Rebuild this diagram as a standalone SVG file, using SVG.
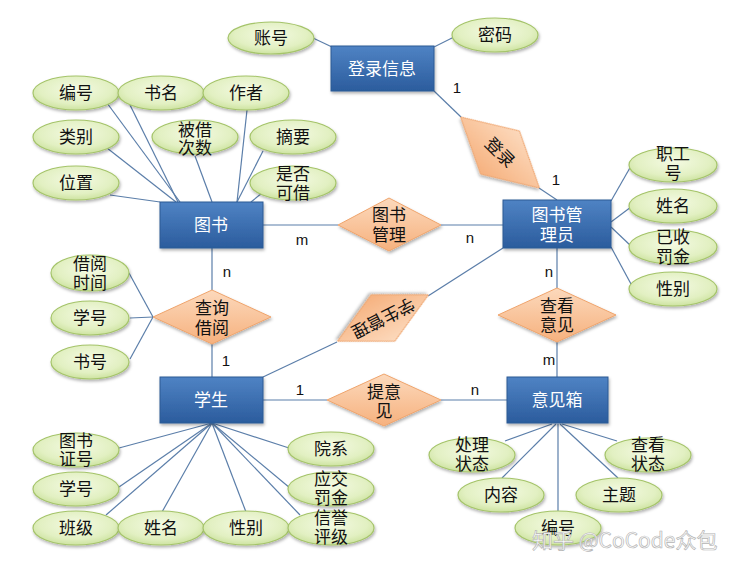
<svg xmlns="http://www.w3.org/2000/svg" width="750" height="570" viewBox="0 0 750 570">
<defs>
<linearGradient id="gBlue" x1="0" y1="0" x2="0" y2="1">
<stop offset="0" stop-color="#4f83c4"/>
<stop offset="1" stop-color="#2b5c9d"/>
</linearGradient>
<linearGradient id="gPeach" x1="0" y1="0" x2="0" y2="1">
<stop offset="0" stop-color="#fcd9bc"/>
<stop offset="1" stop-color="#f6b17e"/>
</linearGradient>
<radialGradient id="gGreen" cx="0.5" cy="0.4" r="0.6">
<stop offset="0" stop-color="#f4fae3"/>
<stop offset="0.7" stop-color="#e2f0c2"/>
<stop offset="1" stop-color="#cde3a0"/>
</radialGradient>
<filter id="sh" x="-20%" y="-20%" width="140%" height="150%">
<feDropShadow dx="1" dy="2" stdDeviation="1.5" flood-color="#000" flood-opacity="0.3"/>
</filter>
</defs>
<style>
.ent{fill:url(#gBlue);stroke:#2d5a94;stroke-width:1;filter:url(#sh)}
.rel{fill:url(#gPeach);stroke:#efa46c;stroke-width:1;filter:url(#sh)}
.att{fill:url(#gGreen);stroke:#a5c46a;stroke-width:1.2;filter:url(#sh)}
.et{font-family:"Noto Sans CJK SC",sans-serif;font-size:17px;fill:#fff;text-anchor:middle}
.t{font-family:"Noto Sans CJK SC",sans-serif;font-size:17px;fill:#111;text-anchor:middle}
.c{stroke:#5b7ea9;stroke-width:1.2;fill:none}
.lbl{font-family:"Liberation Sans",Arial,sans-serif;font-size:15px;fill:#111;text-anchor:middle}
.wm{font-family:"Noto Sans CJK SC",sans-serif;font-size:21px;fill:#fff;stroke:#b4b4b4;stroke-width:0.7}
</style>

<g id="connectors">
<line class="c" x1="313" y1="38" x2="332" y2="47"/>
<line class="c" x1="454" y1="37" x2="434" y2="47"/>
<line class="c" x1="434" y1="91" x2="461" y2="117"/>
<line class="c" x1="539" y1="188" x2="557" y2="200"/>
<line class="c" x1="263" y1="225" x2="338" y2="225"/>
<line class="c" x1="441" y1="225" x2="503" y2="225"/>
<line class="c" x1="212" y1="248" x2="212" y2="290"/>
<line class="c" x1="212" y1="344" x2="212" y2="377"/>
<line class="c" x1="129" y1="273" x2="153" y2="317"/>
<line class="c" x1="130" y1="318" x2="153" y2="317"/>
<line class="c" x1="130" y1="359" x2="153" y2="317"/>
<line class="c" x1="263" y1="377" x2="337" y2="342"/>
<line class="c" x1="428" y1="296" x2="503" y2="248"/>
<line class="c" x1="263" y1="400" x2="327" y2="400"/>
<line class="c" x1="441" y1="400" x2="507" y2="400"/>
<line class="c" x1="557" y1="248" x2="557" y2="288"/>
<line class="c" x1="557" y1="342" x2="557" y2="377"/>
<line class="c" x1="107" y1="103" x2="180" y2="202"/>
<line class="c" x1="130" y1="105" x2="178" y2="202"/>
<line class="c" x1="107" y1="148" x2="176" y2="202"/>
<line class="c" x1="110" y1="195" x2="160" y2="202"/>
<line class="c" x1="195" y1="156" x2="212" y2="202"/>
<line class="c" x1="247" y1="110" x2="237" y2="202"/>
<line class="c" x1="263" y1="151" x2="237" y2="202"/>
<line class="c" x1="262" y1="193" x2="251" y2="202"/>
<line class="c" x1="611" y1="201" x2="631" y2="166"/>
<line class="c" x1="611" y1="222" x2="631" y2="207"/>
<line class="c" x1="611" y1="227" x2="631" y2="246"/>
<line class="c" x1="611" y1="247" x2="631" y2="284"/>
<line class="c" x1="212" y1="423" x2="119" y2="448"/>
<line class="c" x1="212" y1="423" x2="119" y2="487"/>
<line class="c" x1="212" y1="423" x2="106" y2="515"/>
<line class="c" x1="212" y1="423" x2="162" y2="512"/>
<line class="c" x1="212" y1="423" x2="246" y2="512"/>
<line class="c" x1="212" y1="423" x2="289" y2="448"/>
<line class="c" x1="212" y1="423" x2="290" y2="488"/>
<line class="c" x1="212" y1="423" x2="300" y2="515"/>
<line class="c" x1="552" y1="424" x2="505" y2="441"/>
<line class="c" x1="556" y1="424" x2="502" y2="478"/>
<line class="c" x1="558" y1="424" x2="558" y2="512"/>
<line class="c" x1="560" y1="424" x2="618" y2="478"/>
<line class="c" x1="562" y1="424" x2="617" y2="441"/>
</g>

<g id="cardinalities">
<text class="lbl" x="457" y="93">1</text>
<text class="lbl" x="556" y="185">1</text>
<text class="lbl" x="302" y="245">m</text>
<text class="lbl" x="470" y="243">n</text>
<text class="lbl" x="227" y="277">n</text>
<text class="lbl" x="226" y="366">1</text>
<text class="lbl" x="300" y="395">1</text>
<text class="lbl" x="475" y="395">n</text>
<text class="lbl" x="549" y="277">n</text>
<text class="lbl" x="549" y="365">m</text>
</g>

<g id="e-login"><rect class="ent" x="331" y="46" width="103" height="45"/><text class="et" x="382" y="75">登录信息</text></g>
<g id="e-book"><rect class="ent" x="160" y="202" width="103" height="46"/><text class="et" x="211" y="231">图书</text></g>
<g id="e-admin"><rect class="ent" x="503" y="200" width="108" height="48"/><text class="et" x="557" y="221">图书管<tspan x="557" dy="20">理员</tspan></text></g>
<g id="e-student"><rect class="ent" x="160" y="377" width="103" height="46"/><text class="et" x="211" y="406">学生</text></g>
<g id="e-box"><rect class="ent" x="507" y="377" width="101" height="46"/><text class="et" x="557" y="406">意见箱</text></g>

<g id="r-login"><g transform="translate(500,152.5) rotate(45)"><polygon class="rel" points="-53,0 0,-29 53,0 0,29" transform="rotate(-3)"/><text class="t" x="0" y="6">登录</text></g></g>
<g id="r-bookmgmt"><polygon class="rel" points="338,225 389,198 441,225 389,251"/><text class="t" x="389" y="221">图书<tspan x="389" dy="20">管理</tspan></text></g>
<g id="r-query"><polygon class="rel" points="153,317 212,290 271,317 212,344"/><text class="t" x="212" y="314">查询<tspan x="212" dy="20">借阅</tspan></text></g>
<g id="r-stumgmt"><g transform="translate(383,318) rotate(153)"><polygon class="rel" points="-51,0 0,-26 51,0 0,26"/><text class="t" x="0" y="6">学生管理</text></g></g>
<g id="r-suggest"><polygon class="rel" points="327,400 384,374 441,400 384,426"/><text class="t" x="384" y="398">提意<tspan x="384" dy="19">见</tspan></text></g>
<g id="r-view"><polygon class="rel" points="498,315 557,288 616,315 557,342"/><text class="t" x="557" y="312">查看<tspan x="557" dy="19">意见</tspan></text></g>

<g id="a-acct"><ellipse class="att" cx="271" cy="38" rx="43" ry="16"/><text class="t" x="271" y="44">账号</text></g>
<g id="a-pwd"><ellipse class="att" cx="495" cy="35" rx="43" ry="17"/><text class="t" x="495" y="41">密码</text></g>
<g id="a-bno"><ellipse class="att" cx="76" cy="93" rx="43" ry="17"/><text class="t" x="76" y="99">编号</text></g>
<g id="a-bname"><ellipse class="att" cx="161" cy="93" rx="43" ry="17"/><text class="t" x="161" y="99">书名</text></g>
<g id="a-author"><ellipse class="att" cx="246" cy="93" rx="43" ry="17"/><text class="t" x="246" y="99">作者</text></g>
<g id="a-cat"><ellipse class="att" cx="76" cy="137" rx="43" ry="17"/><text class="t" x="76" y="143">类别</text></g>
<g id="a-times"><ellipse class="att" cx="195" cy="137" rx="43" ry="17"/><text class="t" x="195" y="136">被借<tspan x="195" dy="18">次数</tspan></text></g>
<g id="a-abs"><ellipse class="att" cx="293" cy="137" rx="43" ry="17"/><text class="t" x="293" y="143">摘要</text></g>
<g id="a-pos"><ellipse class="att" cx="76" cy="183" rx="43" ry="17"/><text class="t" x="76" y="189">位置</text></g>
<g id="a-avail"><ellipse class="att" cx="293" cy="183" rx="43" ry="17"/><text class="t" x="293" y="180">是否<tspan x="293" dy="19">可借</tspan></text></g>

<g id="a-staffno"><ellipse class="att" cx="673" cy="165" rx="44" ry="17"/><text class="t" x="673" y="160">职工<tspan x="673" dy="19">号</tspan></text></g>
<g id="a-aname"><ellipse class="att" cx="673" cy="206" rx="44" ry="17"/><text class="t" x="673" y="212">姓名</text></g>
<g id="a-fine"><ellipse class="att" cx="673" cy="247" rx="44" ry="17"/><text class="t" x="673" y="243">已收<tspan x="673" dy="20">罚金</tspan></text></g>
<g id="a-asex"><ellipse class="att" cx="673" cy="289" rx="44" ry="17"/><text class="t" x="673" y="295">性别</text></g>

<g id="a-btime"><ellipse class="att" cx="90" cy="273" rx="39" ry="18"/><text class="t" x="90" y="270">借阅<tspan x="90" dy="19">时间</tspan></text></g>
<g id="a-qsno"><ellipse class="att" cx="90" cy="318" rx="39" ry="17"/><text class="t" x="90" y="324">学号</text></g>
<g id="a-qbno"><ellipse class="att" cx="90" cy="362" rx="39" ry="17"/><text class="t" x="90" y="368">书号</text></g>

<g id="a-card"><ellipse class="att" cx="76" cy="450" rx="43" ry="17"/><text class="t" x="76" y="447">图书<tspan x="76" dy="18">证号</tspan></text></g>
<g id="a-sno"><ellipse class="att" cx="76" cy="489" rx="43" ry="17"/><text class="t" x="76" y="495">学号</text></g>
<g id="a-class"><ellipse class="att" cx="76" cy="528" rx="43" ry="17"/><text class="t" x="76" y="534">班级</text></g>
<g id="a-sname"><ellipse class="att" cx="161" cy="528" rx="43" ry="17"/><text class="t" x="161" y="534">姓名</text></g>
<g id="a-ssex"><ellipse class="att" cx="246" cy="528" rx="43" ry="17"/><text class="t" x="246" y="534">性别</text></g>
<g id="a-dept"><ellipse class="att" cx="331" cy="449" rx="43" ry="17"/><text class="t" x="331" y="455">院系</text></g>
<g id="a-sfine"><ellipse class="att" cx="331" cy="489" rx="43" ry="17"/><text class="t" x="331" y="485">应交<tspan x="331" dy="19">罚金</tspan></text></g>
<g id="a-credit"><ellipse class="att" cx="331" cy="528" rx="43" ry="17"/><text class="t" x="331" y="524">信誉<tspan x="331" dy="19">评级</tspan></text></g>

<g id="a-proc"><ellipse class="att" cx="472" cy="455" rx="43" ry="17"/><text class="t" x="472" y="451">处理<tspan x="472" dy="19">状态</tspan></text></g>
<g id="a-vstat"><ellipse class="att" cx="648" cy="455" rx="43" ry="17"/><text class="t" x="648" y="451">查看<tspan x="648" dy="19">状态</tspan></text></g>
<g id="a-content"><ellipse class="att" cx="501" cy="495" rx="43" ry="17"/><text class="t" x="501" y="501">内容</text></g>
<g id="a-topic"><ellipse class="att" cx="619" cy="495" rx="43" ry="17"/><text class="t" x="619" y="501">主题</text></g>
<g id="a-sugno"><ellipse class="att" cx="558" cy="528" rx="43" ry="17"/><text class="t" x="558" y="534">编号</text></g>

<text class="wm" x="532" y="548">知乎 @CoCode众包</text>
</svg>
